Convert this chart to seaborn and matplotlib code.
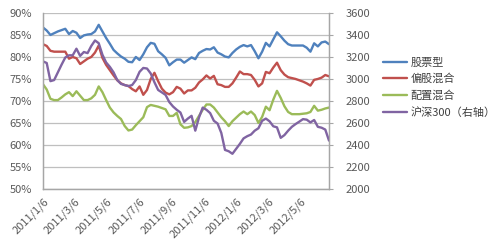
import pandas as pd
import numpy as np
import matplotlib
matplotlib.use('Agg')
import matplotlib.pyplot as plt
import matplotlib.dates as mdates
from matplotlib.ticker import FuncFormatter, MultipleLocator
import seaborn as sns

# weekly data, 2011/1/6 - 2012/6/28
start_date = '2011-01-06'
n_weeks = 78

stock = [86.7, 86.0, 85.0, 85.4, 85.8, 86.1, 86.4, 85.2, 85.9, 85.5,
         84.3, 84.9, 85.1, 85.2, 85.8, 87.3, 85.8, 84.3, 83.0, 81.6,
         80.8, 80.1, 79.6, 78.9, 78.8, 80.0, 79.3, 80.6, 82.2, 83.2,
         83.0, 81.3, 80.6, 79.8, 78.1, 78.8, 79.4, 79.4, 78.7, 79.3,
         79.9, 79.5, 80.9, 81.4, 81.8, 81.7, 82.2, 81.0, 80.6, 80.1,
         79.9, 80.9, 81.7, 82.3, 82.7, 82.4, 82.7, 81.3, 79.7, 81.2,
         83.2, 82.4, 84.0, 85.6, 84.7, 83.7, 82.9, 82.6, 82.6, 82.6,
         82.6, 82.1, 81.2, 83.1, 82.4, 83.3, 83.5, 82.9]

partial = [82.9, 82.5, 81.4, 81.2, 81.2, 81.2, 81.2, 79.6, 80.0, 79.7,
           78.4, 79.0, 79.6, 80.0, 81.0, 82.6, 79.8, 78.2, 77.0, 75.8,
           74.7, 74.0, 73.6, 73.4, 72.7, 72.2, 73.3, 71.4, 72.5, 75.0,
           76.4, 74.5, 72.8, 71.9, 71.5, 72.0, 73.2, 72.8, 71.7, 72.4,
           72.4, 73.0, 74.2, 74.9, 75.8, 75.1, 75.7, 73.8, 73.6, 73.2,
           73.2, 74.0, 75.3, 76.7, 76.1, 76.1, 75.9, 74.8, 73.3, 74.0,
           76.6, 76.3, 77.6, 78.7, 77.0, 76.0, 75.4, 75.2, 75.0, 74.7,
           74.4, 74.0, 73.5, 74.8, 75.0, 75.3, 75.9, 75.6]

balanced = [73.8, 72.6, 70.5, 70.2, 70.2, 70.8, 71.5, 72.0, 71.1, 72.2,
            71.2, 70.2, 70.2, 70.6, 71.4, 73.3, 72.0, 70.2, 68.5, 67.4,
            66.6, 65.9, 64.3, 63.3, 63.5, 64.5, 65.4, 66.3, 68.6, 69.1,
            68.9, 68.7, 68.4, 68.1, 66.6, 66.6, 67.3, 64.7, 63.9, 64.0,
            64.3, 65.2, 66.6, 68.0, 69.2, 69.2, 68.5, 67.4, 66.3, 65.4,
            64.3, 65.4, 66.2, 67.0, 67.6, 67.0, 67.6, 66.8, 65.0, 66.4,
            68.7, 67.9, 70.3, 72.3, 70.7, 68.8, 67.5, 67.0, 67.0, 67.0,
            67.1, 67.2, 67.5, 68.9, 67.8, 68.0, 68.3, 68.5]

hs300 = [3160, 3145, 2980, 2990, 3060, 3130, 3195, 3215, 3215, 3275,
         3210, 3245, 3235, 3300, 3350, 3325, 3220, 3150, 3110, 3060,
         2990, 2955, 2945, 2935, 2945, 2990, 3065, 3100, 3095, 3050,
         2970, 2900, 2878, 2855, 2790, 2750, 2720, 2695, 2610, 2640,
         2665, 2530, 2650, 2740, 2720, 2690, 2620, 2595, 2510, 2355,
         2343, 2320, 2365, 2410, 2460, 2480, 2495, 2530, 2552, 2620,
         2640, 2615, 2570, 2560, 2465, 2490, 2530, 2565, 2590, 2612,
         2635, 2630, 2605, 2627, 2565, 2557, 2540, 2440]

labels = ['股票型', '偏股混合', '配置混合', '沪深300（右轴）']
colors = ['#4F81BD', '#C0504D', '#9BBB59', '#8064A2']
tick_dates = ['2011-01-06', '2011-03-06', '2011-05-06', '2011-07-06', '2011-09-06',
              '2011-11-06', '2012-01-06', '2012-03-06', '2012-05-06']

sns.set_style('white')
plt.rcParams['font.family'] = ['Noto Sans CJK SC', 'DejaVu Sans']

df = pd.DataFrame({'date': pd.date_range(start_date, periods=n_weeks, freq='7D'),
                   'stock': stock, 'partial': partial, 'balanced': balanced, 'hs300': hs300})

fig = plt.figure(figsize=(5.0, 2.49), dpi=100)
ax = fig.add_axes([0.086, 0.241, 0.572, 0.707])
ax2 = ax.twinx()

lw = 1.7
for col, lab, c in zip(['stock', 'partial', 'balanced'], labels[:3], colors[:3]):
    sns.lineplot(data=df, x='date', y=col, ax=ax, color=c, lw=lw, label=lab)
sns.lineplot(data=df, x='date', y='hs300', ax=ax2, color=colors[3], lw=lw, label=labels[3])

h1, l1 = ax.get_legend_handles_labels()
h2, l2 = ax2.get_legend_handles_labels()
ax.get_legend().remove()
ax2.get_legend().remove()

txt = '#595959'
ax.set_ylim(50, 90)
ax.yaxis.set_major_locator(MultipleLocator(5))
ax.yaxis.set_major_formatter(FuncFormatter(lambda v, p: f'{v:.0f}%'))
ax2.set_ylim(2000, 3600)
ax2.yaxis.set_major_locator(MultipleLocator(200))
ax.grid(axis='y', color='#BFBFBF', lw=0.9)
ax.set_axisbelow(True)

ax.set_xlim(df['date'].iloc[0], df['date'].iloc[-1])
ax.set_xticks(pd.to_datetime(tick_dates))
ax.xaxis.set_major_formatter(FuncFormatter(
    lambda v, p: (lambda d: f'{d.year}/{d.month}/{d.day}')(mdates.num2date(v))))
for lab in ax.get_xticklabels():
    lab.set_rotation(45)
    lab.set_ha('right')
    lab.set_rotation_mode('anchor')

for a in (ax, ax2):
    a.set_xlabel('')
    a.set_ylabel('')
    a.tick_params(labelsize=8, colors=txt, length=3, width=0.8, pad=3)
    a.spines['top'].set_visible(False)
    for s in ['left', 'right', 'bottom']:
        a.spines[s].set_color('#A6A6A6')
        a.spines[s].set_linewidth(0.9)
ax.tick_params(axis='x', color='#A6A6A6', pad=2)
ax.tick_params(axis='y', color='#A6A6A6', length=0, pad=8)
ax2.tick_params(axis='y', color='#A6A6A6', length=3, pad=9)

fig.legend(h1 + h2, l1 + l2, loc='upper left', bbox_to_anchor=(0.745, 0.81),
           frameon=False, fontsize=8, labelcolor='#404040', handlelength=2.2,
           handletextpad=0.3, labelspacing=0.55)

fig.savefig('out.png', dpi=100)
